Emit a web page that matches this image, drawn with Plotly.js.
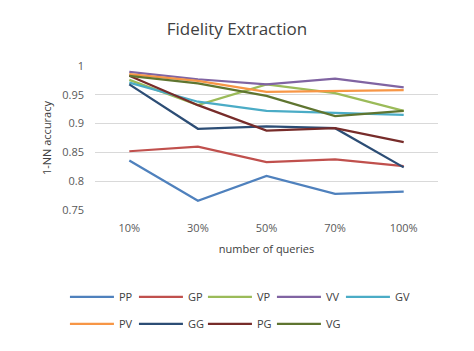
<!DOCTYPE html>
<html><head><meta charset="utf-8">
<script src="https://cdn.plot.ly/plotly-3.0.1.min.js"></script>
<style>body{margin:0;background:#fff}#c{width:474px;height:351px}</style>
</head><body><div id="c"></div>
<script>
const categories = ["10%", "30%", "50%", "70%", "100%"];
const seriesNames = ["PP", "GP", "VP", "VV", "GV", "PV", "GG", "PG", "VG"];
const PP = [0.836, 0.766, 0.809, 0.778, 0.782];
const GP = [0.852, 0.860, 0.833, 0.838, 0.826];
const VP = [0.976, 0.932, 0.968, 0.953, 0.922];
const VV = [0.990, 0.977, 0.968, 0.978, 0.963];
const GV = [0.971, 0.938, 0.922, 0.919, 0.915];
const PV = [0.986, 0.974, 0.955, 0.957, 0.958];
const GG = [0.968, 0.891, 0.895, 0.892, 0.824];
const PG = [0.983, 0.932, 0.888, 0.892, 0.868];
const VG = [0.983, 0.970, 0.948, 0.913, 0.922];
const values = [PP, GP, VP, VV, GV, PV, GG, PG, VG];
const colors = ["#4F81BD", "#C0504D", "#9BBB59", "#8064A2", "#4BACC6", "#F79646", "#2C4D75", "#772C2A", "#5F7530"];
const font = "Open Sans, Liberation Sans, sans-serif";
const traces = seriesNames.map((n, i) => ({
  type: "scatter", mode: "lines", name: n, x: categories, y: values[i],
  line: {color: colors[i], width: 2.25},
  legend: i < 5 ? "legend" : "legend2"
}));
const legendBase = {orientation: "h", xref: "container", yref: "container", x: 0.137, xanchor: "left", yanchor: "middle",
  entrywidth: 10, entrywidthmode: "pixels", itemwidth: 44, font: {size: 11, color: "#404040"}, tracegroupgap: 0, bgcolor: "rgba(0,0,0,0)"};
const layout = {
  width: 474, height: 351,
  margin: {l: 95, r: 36, t: 66, b: 141},
  paper_bgcolor: "#fff", plot_bgcolor: "#fff",
  font: {family: font, color: "#595959", size: 11},
  title: {text: "Fidelity Extraction", font: {family: font, size: 17, color: "#404040"}, x: 0.5, xanchor: "center", xref: "container", y: 0.917, yanchor: "middle"},
  xaxis: {
    type: "category", range: [-0.5, 4.5], automargin: false, showgrid: false, zeroline: false, showline: false, ticks: "",
    ticklabelstandoff: 10,
    title: {text: "number of queries", font: {size: 11, color: "#404040"}, standoff: 11}
  },
  yaxis: {
    range: [0.75, 1.0], dtick: 0.05, automargin: false, showgrid: true, gridcolor: "#d9d9d9", gridwidth: 1,
    zeroline: false, showline: false, ticks: "", ticklabelstandoff: 10,
    title: {text: "1-NN accuracy", font: {size: 11, color: "#404040"}, standoff: 8}
  },
  showlegend: true,
  legend: Object.assign({}, legendBase, {y: 0.154}),
  legend2: Object.assign({}, legendBase, {y: 0.077})
};
Plotly.newPlot("c", traces, layout, {displayModeBar: false, staticPlot: true});
</script></body></html>
